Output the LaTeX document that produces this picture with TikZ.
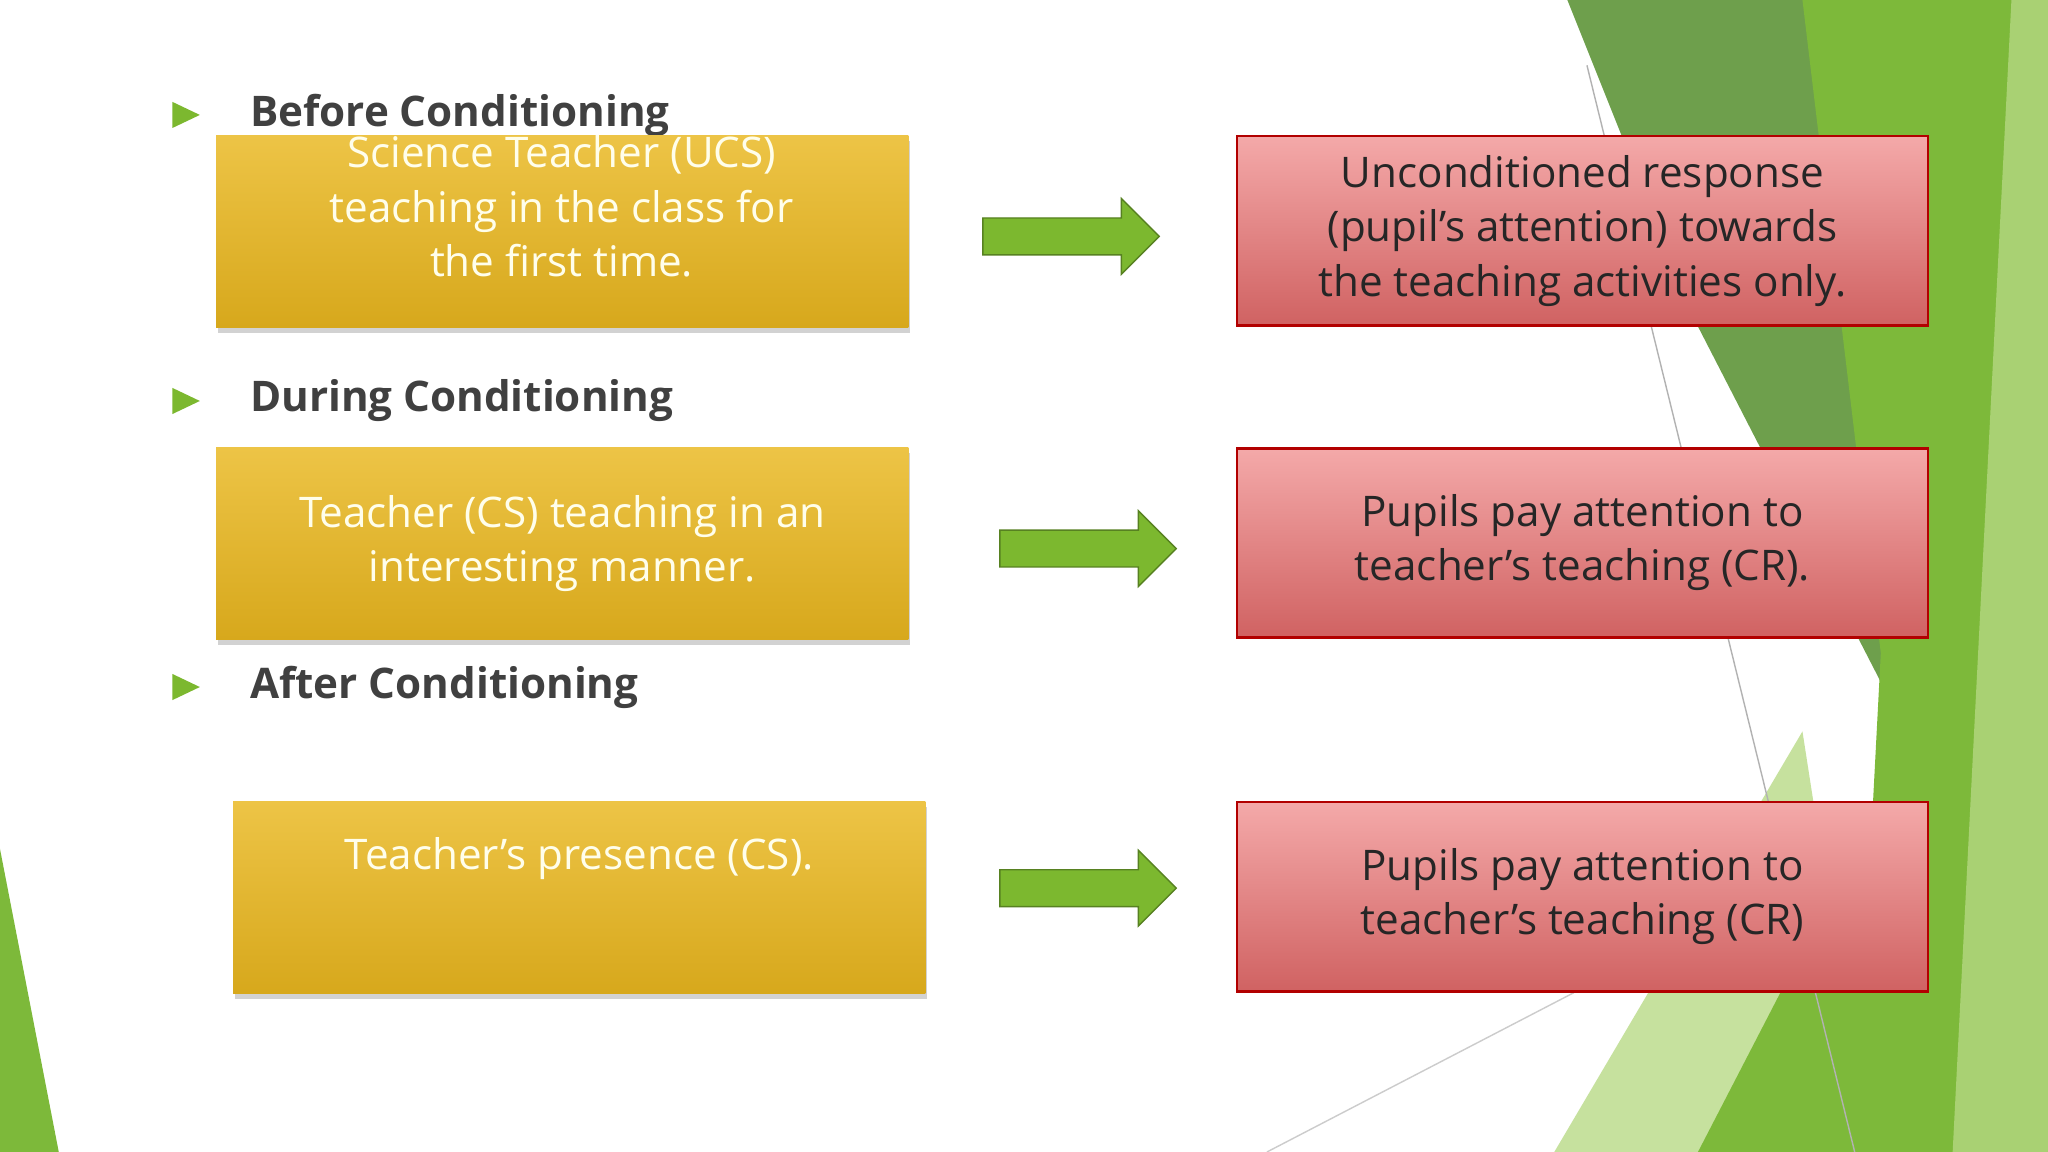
\documentclass[tikz,border=0pt]{standalone}
\usepackage{fontspec}
\setmainfont{Open Sans}
\usetikzlibrary{shapes.arrows,shadows}
\definecolor{gA}{HTML}{6E9F4C}
\definecolor{gB}{HTML}{7DB93A}
\definecolor{gC}{HTML}{A9D173}
\definecolor{gD}{HTML}{C6E19E}
\definecolor{arr}{HTML}{7CB82F}
\definecolor{yt}{HTML}{EDC446}
\definecolor{yb}{HTML}{D7A81C}
\definecolor{rt}{HTML}{F4A9A9}
\definecolor{rb}{HTML}{D06262}
\begin{document}
\begin{tikzpicture}[x=0.01306cm,y=-0.01306cm,
 ybox/.style={minimum width=6.922cm,minimum height=1.92cm,anchor=north west,top color=yt,bottom color=yb,font=\fontsize{12}{15.5}\selectfont,text=white!92!yellow,align=center,inner sep=0,drop shadow={opacity=0.35,shadow xshift=0.5pt,shadow yshift=-1.5pt}},
 rbox/.style={minimum width=6.909cm,minimum height=1.894cm,anchor=north west,draw=red!70!black,line width=0.8pt,top color=rt,bottom color=rb,font=\fontsize{12}{15.5}\selectfont,text=black!85,align=center,inner sep=0},
 garr/.style={single arrow,draw=arr!70!black,fill=arr,minimum height=1.763cm,minimum width=0.757cm,single arrow head extend=0.1cm,inner sep=2.5pt},
 head/.style={anchor=west,font=\bfseries\fontsize{12}{14}\selectfont,text=black!75},
 bul/.style={fill=arr}]
\useasboundingbox (0,0) rectangle (1568,882);
\fill[white] (0,0) rectangle (1568,882);
% background
\fill[gA] (1200,0)--(1415,0)--(1480,600)--(1300,250)--cycle;
\fill[gB] (1380,0)--(1545,0)--(1500,882)--(1420,882)--(1440,500)--cycle;
\fill[gC] (1540,0)--(1568,0)--(1568,882)--(1495,882)--cycle;
\fill[gD] (1190,882)--(1380,560)--(1430,882)--cycle;
\fill[gB] (1300,882)--(1420,650)--(1440,882)--cycle;
\fill[gB] (0,650)--(45,882)--(0,882)--cycle;
\draw[gray!60,line width=0.4pt] (1215,50)--(1420,882);
\draw[gray!40,line width=0.4pt] (970,882)--(1205,760);
% bullets & heads
\foreach \y/\t/\n in {88/Before Conditioning/h1,307/During Conditioning/h2,526/After Conditioning/h3}{
 \fill[bul] (132,\y-10)--(153,\y)--(132,\y+10)--cycle;
 \node[head] (\n) at (182,\y) {\t};}
% boxes
\node[ybox] (y1) at (165,103) {};
\node[font=\fontsize{12}{15.5}\selectfont,text=white!92!yellow,align=center] (y1t) at (430,158) {Science Teacher (UCS)\\teaching in the class for\\the first time.};
\node[ybox] (y2) at (165,342) {Teacher (CS) teaching in an\\interesting manner.};
\node[ybox] (y3) at (178,613) {\raisebox{25pt}{Teacher’s presence (CS).}};
\node[rbox] (r1) at (946,103) {Unconditioned response\\(pupil’s attention) towards\\the teaching activities only.};
\node[rbox] (r2) at (946,342) {\raisebox{12pt}{\begin{tabular}{@{}c@{}}Pupils pay attention to\\teacher’s teaching (CR).\end{tabular}}};
\node[rbox] (r3) at (946,613) {\raisebox{12pt}{\begin{tabular}{@{}c@{}}Pupils pay attention to\\teacher’s teaching (CR)\end{tabular}}};
% arrows
\node[garr] (a1) at (813,181) {};
\node[garr] (a2) at (826,420) {};
\node[garr] (a3) at (826,680) {};
\end{tikzpicture}
\end{document}
